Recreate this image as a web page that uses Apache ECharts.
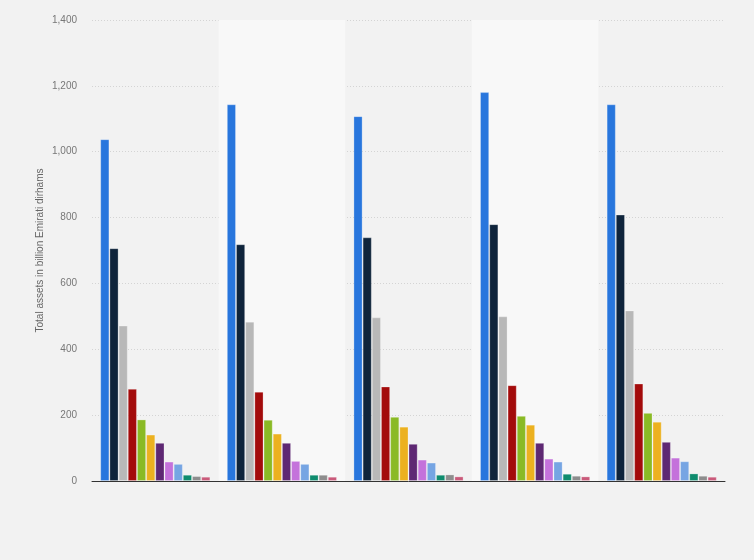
<!DOCTYPE html>
<html>
<head>
<meta charset="utf-8">
<script src="https://cdn.jsdelivr.net/npm/echarts@6/dist/echarts.min.js"></script>
<style>
  html, body { margin: 0; padding: 0; background: #f2f2f2; }
  #assetsChart { width: 754px; height: 560px; }
</style>
</head>
<body>
<div id="assetsChart"></div>
<script>
// 5 groups (no labels shown on the axis), 12 banks per group
const categories = ['2019', '2020', '2021', '2022', '2023']
const bankNames = ['Bank 1', 'Bank 2', 'Bank 3', 'Bank 4', 'Bank 5', 'Bank 6', 'Bank 7', 'Bank 8', 'Bank 9', 'Bank 10', 'Bank 11', 'Bank 12']
const bankColors = ['#2876dd', '#0f243b', '#b8b8b8', '#a30b0b', '#8aba25', '#ecb120', '#5e2873', '#c472db', '#76a5e3', '#0f8c6e', '#8d8d8d', '#c95a7a']
const yTicks = [0, 200, 400, 600, 800, 1000, 1200, 1400]

// values per bank, one per group
const bank1 = [1038, 1144, 1108, 1181, 1144]
const bank2 = [707, 719, 740, 780, 809]
const bank3 = [472, 484, 497, 500, 518]
const bank4 = [280, 271, 287, 291, 296]
const bank5 = [187, 186, 195, 198, 207]
const bank6 = [141, 144, 165, 171, 180]
const bank7 = [116, 116, 113, 116, 119]
const bank8 = [59, 61, 65, 68, 71]
const bank9 = [52, 52, 56, 59, 60]
const bank10 = [19, 19, 19, 22, 23]
const bank11 = [15, 19, 20, 16, 16]
const bank12 = [13, 13, 14, 14, 13]
const bankValues = [bank1, bank2, bank3, bank4, bank5, bank6, bank7, bank8, bank9, bank10, bank11, bank12]

const chart = echarts.init(document.getElementById('assetsChart'))

const series = bankValues.map((vals, i) => ({
  name: bankNames[i],
  type: 'bar',
  data: vals,
  barGap: '0%',
  barCategoryGap: '13%',
  itemStyle: {
    color: bankColors[i],
    borderColor: 'rgba(255,255,255,0.25)',
    borderWidth: 1
  }
}))

chart.setOption({
  backgroundColor: '#f2f2f2',
  animation: false,
  grid: { left: 92, right: 29, top: 20, bottom: 79 },
  xAxis: {
    type: 'category',
    data: categories,
    axisTick: { show: false },
    axisLabel: { show: false },
    axisLine: { lineStyle: { color: '#333', width: 1 } },
    splitArea: {
      show: true,
      areaStyle: { color: ['rgba(0,0,0,0)', '#f8f8f8'] }
    }
  },
  yAxis: {
    type: 'value',
    min: 0,
    max: yTicks[yTicks.length - 1],
    interval: 200,
    name: 'Total assets in billion Emirati dirhams',
    nameLocation: 'middle',
    nameGap: 47,
    nameMoveOverlap: false,
    nameTextStyle: { color: '#666', fontSize: 10, fontFamily: 'Arial, Liberation Sans, sans-serif' },
    axisLine: { show: false },
    axisTick: { show: false },
    axisLabel: {
      color: '#777',
      fontSize: 10,
      margin: 15,
      fontFamily: 'Arial, Liberation Sans, sans-serif',
      formatter: v => v.toLocaleString('en-US')
    },
    splitLine: { lineStyle: { color: '#d4d4d4', type: [1, 2] } }
  },
  series: series
})
</script>
</body>
</html>
